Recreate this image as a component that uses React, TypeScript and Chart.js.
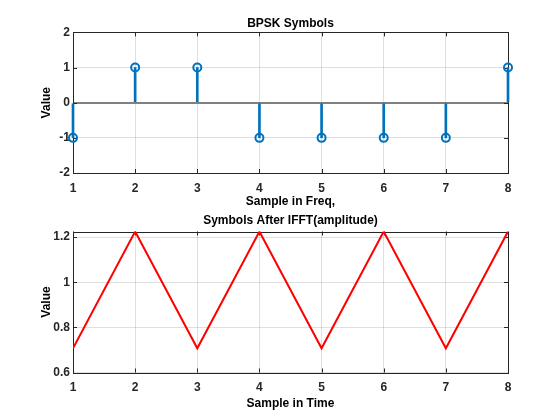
import React, { useEffect, useRef } from "react";
import { Chart, registerables } from "chart.js";

Chart.register(...registerables);

// ---- data ----
const freqSamples = [1, 2, 3, 4, 5, 6, 7, 8];
const bpskSymbols = [-1, 1, 1, -1, -1, -1, -1, 1];
const timeSamples = [1, 2, 3, 4, 5, 6, 7, 8];
const ifftAmplitude = [0.7071, 1.2247, 0.7071, 1.2247, 0.7071, 1.2247, 0.7071, 1.2247];
const xTicks = [1, 2, 3, 4, 5, 6, 7, 8];
const yTicksTop = [-2, -1, 0, 1, 2];
const yTicksBottom = [0.6, 0.8, 1, 1.2];

const FONT = "'Liberation Sans', Arial, Helvetica, sans-serif";
const AXIS_COLOR = "#262626";
const GRID_COLOR = "rgba(38,38,38,0.15)";

const boxPlugin = {
  id: "matlabBox",
  beforeDatasetsDraw(chart: any) {
    const { ctx, chartArea } = chart;
    const { left, right, top, bottom } = chartArea;
    const xs = chart.scales.x;
    const ys = chart.scales.y;
    const tl = 4;
    ctx.save();
    ctx.strokeStyle = AXIS_COLOR;
    ctx.lineWidth = 1;
    ctx.beginPath();
    xs.ticks.forEach((t: any) => {
      const px = Math.round(xs.getPixelForValue(t.value)) + 0.5;
      ctx.moveTo(px, bottom);
      ctx.lineTo(px, bottom - tl);
      ctx.moveTo(px, top);
      ctx.lineTo(px, top + tl);
    });
    ys.ticks.forEach((t: any) => {
      const py = Math.round(ys.getPixelForValue(t.value)) + 0.5;
      ctx.moveTo(left, py);
      ctx.lineTo(left + tl, py);
      ctx.moveTo(right, py);
      ctx.lineTo(right - tl, py);
    });
    ctx.stroke();
    ctx.strokeRect(Math.round(left) + 0.5, Math.round(top) + 0.5, Math.round(right - left), Math.round(bottom - top));
    ctx.restore();
  },
};

function baseScales(opts: {
  yTicks: number[];
  yMin: number;
  yMax: number;
  xTitle: string;
  xAxisHeight: number;
  xTitlePadBottom: number;
  zeroLine: boolean;
  yFmt: (v: number) => string;
}) {
  return {
    x: {
      type: "linear",
      min: xTicks[0],
      max: xTicks[xTicks.length - 1],
      offset: false,
      afterBuildTicks: (s: any) => {
        s.ticks = xTicks.map((v) => ({ value: v }));
      },
      afterFit: (s: any) => {
        s.height = opts.xAxisHeight;
      },
      grid: { color: GRID_COLOR, drawTicks: false, offset: false },
      border: { display: false },
      ticks: {
        color: AXIS_COLOR,
        padding: 8,
        maxRotation: 0,
        autoSkip: false,
        font: { family: FONT, size: 12, weight: "bold" },
        callback: (v: any) => String(v),
      },
      title: {
        display: true,
        text: opts.xTitle,
        color: "#000",
        font: { family: FONT, size: 12, weight: "bold", lineHeight: 1.2 },
        padding: { top: 0, bottom: opts.xTitlePadBottom },
      },
    },
    y: {
      type: "linear",
      min: opts.yMin,
      max: opts.yMax,
      afterBuildTicks: (s: any) => {
        s.ticks = opts.yTicks.map((v) => ({ value: v }));
      },
      afterFit: (s: any) => {
        s.width = 73;
      },
      grid: {
        drawTicks: false,
        color: (c: any) => (opts.zeroLine && c.tick && c.tick.value === 0 ? "#808080" : GRID_COLOR),
        lineWidth: (c: any) => (opts.zeroLine && c.tick && c.tick.value === 0 ? 2 : 1),
      },
      border: { display: false },
      ticks: {
        color: AXIS_COLOR,
        padding: 3,
        autoSkip: false,
        font: { family: FONT, size: 12, weight: "bold" },
        callback: (v: any) => opts.yFmt(Number(v)),
      },
      title: {
        display: true,
        text: "Value",
        color: "#000",
        font: { family: FONT, size: 12, weight: "bold", lineHeight: 1.2 },
        padding: { top: 39, bottom: 0 },
      },
    },
  };
}

export default function App() {
  const topRef = useRef<HTMLCanvasElement>(null);
  const botRef = useRef<HTMLCanvasElement>(null);

  useEffect(() => {
    const top = new Chart(topRef.current as HTMLCanvasElement, {
      type: "scatter",
      data: {
        datasets: [
          {
            type: "bar",
            data: freqSamples.map((x, i) => ({ x, y: bpskSymbols[i] })),
            backgroundColor: "#0072BD",
            borderWidth: 0,
            barThickness: 2,
            clip: false,
          } as any,
          {
            type: "scatter",
            data: freqSamples.map((x, i) => ({ x, y: bpskSymbols[i] })),
            showLine: false,
            pointRadius: 4,
            pointBorderWidth: 2,
            pointBorderColor: "#0072BD",
            pointBackgroundColor: "rgba(0,0,0,0)",
            clip: false,
          },
        ],
      },
      options: {
        animation: false,
        responsive: false,
        devicePixelRatio: 1,
        layout: { padding: { left: 0, right: 52, top: 0, bottom: 0 } },
        plugins: {
          legend: { display: false },
          tooltip: { enabled: false },
          title: {
            display: true,
            fullSize: false,
            text: "BPSK Symbols",
            color: "#000",
            font: { family: FONT, size: 12, weight: "bold", lineHeight: 1.2 },
            padding: { top: 16, bottom: 2 },
          },
        },
        scales: baseScales({
          yTicks: yTicksTop,
          yMin: -2,
          yMax: 2,
          xTitle: "Sample in Freq,",
          xAxisHeight: 37,
          xTitlePadBottom: 1,
          zeroLine: true,
          yFmt: (v) => String(v),
        }) as any,
      },
      plugins: [boxPlugin],
    });

    const bot = new Chart(botRef.current as HTMLCanvasElement, {
      type: "line",
      data: {
        datasets: [
          {
            data: timeSamples.map((x, i) => ({ x, y: ifftAmplitude[i] })),
            borderColor: "#FF0000",
            borderWidth: 2,
            pointRadius: 0,
            tension: 0,
            fill: false,
          },
        ],
      },
      options: {
        animation: false,
        responsive: false,
        devicePixelRatio: 1,
        layout: { padding: { left: 0, right: 52, top: 0, bottom: 0 } },
        plugins: {
          legend: { display: false },
          tooltip: { enabled: false },
          title: {
            display: true,
            fullSize: false,
            text: "Symbols After IFFT(amplitude)",
            color: "#000",
            font: { family: FONT, size: 12, weight: "bold", lineHeight: 1.2 },
            padding: { top: 3.3, bottom: 3.8 },
          },
        },
        scales: baseScales({
          yTicks: yTicksBottom,
          yMin: 0.6,
          yMax: 1.2247,
          xTitle: "Sample in Time",
          xAxisHeight: 47.5,
          xTitlePadBottom: 9,
          zeroLine: false,
          yFmt: (v) => String(Math.round(v * 10) / 10),
        }) as any,
      },
      plugins: [boxPlugin],
    });

    return () => {
      top.destroy();
      bot.destroy();
    };
  }, []);

  return (
    <div style={{ position: "absolute", left: 0, top: 0, width: 560, height: 420, background: "#fff" }}>
      <canvas ref={topRef} width={560} height={210} style={{ position: "absolute", left: 0, top: 0, width: 560, height: 210 }} />
      <canvas ref={botRef} width={560} height={210} style={{ position: "absolute", left: 0, top: 210, width: 560, height: 210 }} />
    </div>
  );
}
